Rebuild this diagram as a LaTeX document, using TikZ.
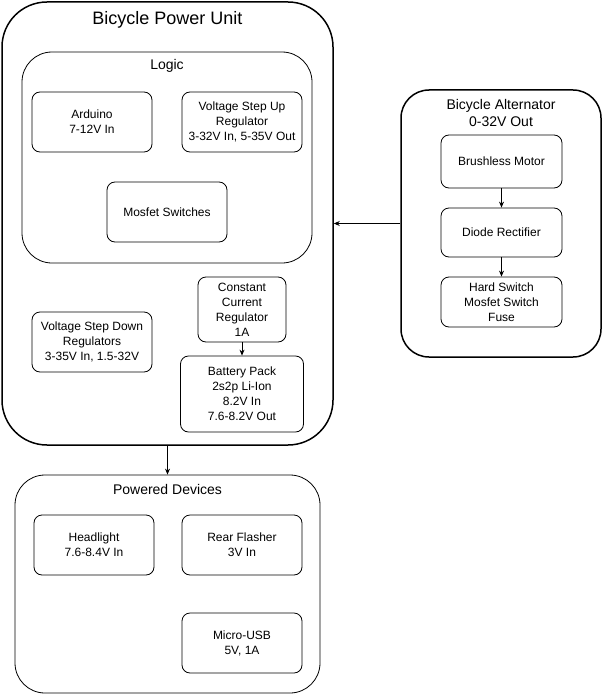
\documentclass[tikz,border=0pt]{standalone}
\usepackage{fontspec}
\setmainfont{Liberation Sans}
\usetikzlibrary{arrows.meta}

\begin{document}
\begin{tikzpicture}[x=1pt, y=-1pt,
    part/.style = {draw, line width=0.8pt, rounded corners=8pt, align=center,
      inner sep=2pt, minimum width=120pt, minimum height=60pt,
      font=\fontsize{12}{15}\selectfont},
    group/.style = {draw, line width=0.8pt, rounded corners=30pt},
    unit/.style = {draw, line width=1.5pt, rounded corners=28pt},
    heading/.style = {align=center, font=\fontsize{14}{17}\selectfont},
    flow/.style = {-{Stealth[length=6pt, width=5pt]}, line width=0.8pt}]
  \useasboundingbox (0,0) rectangle (603,698);
  % power unit
  \node[unit, rounded corners=45pt, minimum width=331pt, minimum height=443pt] (pu) at (167.5,223.5) {};
  \node[font=\fontsize{18}{21}\selectfont] (putitle) at (167.5,20) {Bicycle Power Unit};
  \node[group, minimum width=290pt, minimum height=211pt] (logic) at (167,157.5) {};
  \node[heading] (logictitle) at (167,66) {Logic};
  \node[part] (arduino) at (92,122) {Arduino\\7-12V In};
  \node[part] (stepup) at (242,122) {Voltage Step Up\\Regulator\\3-32V In, 5-35V Out};
  \node[part] (mosfet) at (167,212) {Mosfet Switches};
  \node[part] (stepdown) at (92,342) {Voltage Step Down\\Regulators\\3-35V In, 1.5-32V};
  \node[part, minimum width=88pt, minimum height=65pt] (ccr) at (242,309.5) {Constant\\Current\\Regulator\\1A};
  \node[part, minimum width=123pt, minimum height=76pt] (battery) at (242,394) {Battery Pack\\2s2p Li-Ion\\8.2V In\\7.6-8.2V Out};
  % alternator
  \node[unit, minimum width=200pt, minimum height=267pt] (alt) at (501,223.5) {};
  \node[heading] (alttitle) at (501,113) {Bicycle Alternator\\0-32V Out};
  \node[part, minimum width=121pt, minimum height=53pt] (motor) at (501.5,161.5) {Brushless Motor};
  \node[part, minimum width=121pt, minimum height=49pt] (diode) at (501.5,232.5) {Diode Rectifier};
  \node[part, minimum width=121pt, minimum height=50pt] (switch) at (501.5,302) {Hard Switch\\Mosfet Switch\\Fuse};
  % powered devices
  \node[group, minimum width=305pt, minimum height=218pt] (devices) at (167.5,584) {};
  \node[heading] (devtitle) at (167.5,489) {Powered Devices};
  \node[part] (headlight) at (94,545) {Headlight\\7.6-8.4V In};
  \node[part] (flasher) at (242,545) {Rear Flasher\\3V In};
  \node[part] (usb) at (242,643) {Micro-USB\\5V, 1A};
  % connections
  \draw[flow] (ccr) -- (battery);
  \draw[flow] (motor) -- (diode);
  \draw[flow] (diode) -- (switch);
  \draw[flow] (alt.west) -- (pu.east);
  \draw[flow] (pu.south) -- (devices.north);
\end{tikzpicture}
\end{document}
